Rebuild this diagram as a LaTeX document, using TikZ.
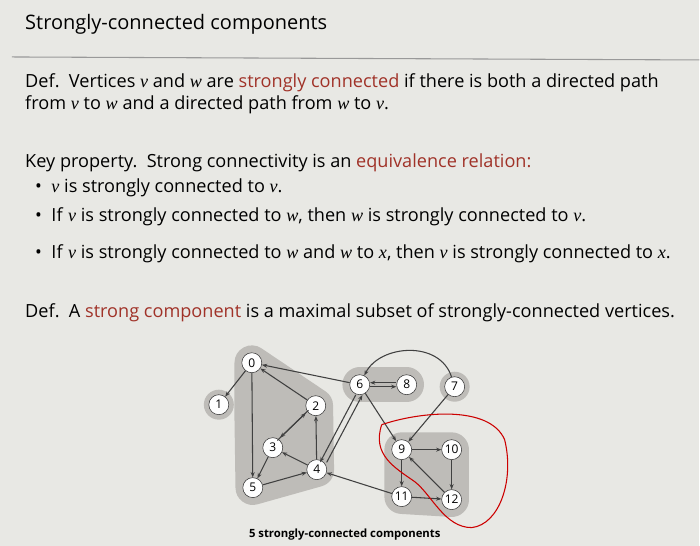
\documentclass[tikz,border=0pt]{standalone}
\usepackage{fontspec}
\setmainfont{Open Sans}
\usetikzlibrary{arrows.meta}
\definecolor{bg}{RGB}{232,232,228}
\definecolor{kw}{RGB}{160,50,40}
\definecolor{blob}{RGB}{190,188,184}
\newcommand{\mv}[1]{\textrm{\fontspec{Liberation Serif}\itshape #1}}
\begin{document}
\begin{tikzpicture}[x=0.75pt,y=-0.75pt,
  txt/.style={anchor=base west,inner sep=0,font=\fontsize{13.6}{16}\selectfont},
  v/.style={circle,draw=black!80,fill=white!95!bg,minimum size=15pt,inner sep=0,font=\fontsize{9}{10}\selectfont},
  e/.style={-{Stealth[length=4pt]},thick,black!75},
  bl/.style={fill=blob,line join=round,line cap=round,line width=26pt,draw=blob}]
\fill[bg] (0,0) rectangle (700,546);
\node[txt,font=\fontsize{15}{17}\selectfont] (t) at (25,30) {Strongly-connected components};
\draw[black!40,thick] (12,57) -- (700,60);
\node[txt] (d1) at (25,88) {Def.\ \ Vertices \mv{v} and \mv{w} are \textcolor{kw}{strongly connected} if there is both a directed path};
\node[txt] (d2) at (25,110) {from \mv{v} to \mv{w} and a directed path from \mv{w} to \mv{v}.};
\node[txt] (k) at (25,168) {Key property.\ \ Strong connectivity is an \textcolor{kw}{equivalence relation:}};
\node[txt] (b1) at (35,193) {•\ \ \mv{v} is strongly connected to \mv{v}.};
\node[txt] (b2) at (35,222) {•\ \ If \mv{v} is strongly connected to \mv{w}, then \mv{w} is strongly connected to \mv{v}.};
\node[txt] (b3) at (35,259) {•\ \ If \mv{v} is strongly connected to \mv{w} and \mv{w} to \mv{x}, then \mv{v} is strongly connected to \mv{x}.};
\node[txt] (d3) at (25,318) {Def.\ \ A \textcolor{kw}{strong component} is a maximal subset of strongly-connected vertices.};
% blobs
\draw[bl] (252,363) -- (316,406) -- (317,470) -- (253,488) -- (252,420) -- cycle;
\fill[blob] (219,405) circle (15);
\draw[bl] (360,385) -- (407,385);
\fill[blob] (455,387) circle (15);
\draw[bl] (402,450) -- (452,450) -- (452,500) -- (402,497) -- cycle;
% nodes
\node[v] (n0) at (252,363) {0};
\node[v] (n1) at (219,405) {1};
\node[v] (n2) at (316,406) {2};
\node[v] (n3) at (273,448) {3};
\node[v] (n4) at (317,470) {4};
\node[v] (n5) at (253,488) {5};
\node[v] (n6) at (360,385) {6};
\node[v] (n8) at (407,385) {8};
\node[v] (n7) at (455,387) {7};
\node[v] (n9) at (402,450) {9};
\node[v] (n10) at (452,450) {10};
\node[v] (n11) at (402,497) {11};
\node[v] (n12) at (452,500) {12};
\draw[e] (n0) -- (n1);
\draw[e] (n0) -- (n5);
\draw[e] (n2) -- (n0);
\draw[e] (n6) -- (n0);
\draw[e] ([yshift=2pt]n2.south west) -- ([yshift=2pt]n3.north east);
\draw[e] ([xshift=-2pt]n3.north east) -- ([xshift=-2pt]n2.south west);
\draw[e] (n3) -- (n5);
\draw[e] (n4) -- (n3);
\draw[e] (n4) -- (n2);
\draw[e] (n5) -- (n4);
\draw[e] ([xshift=2pt]n4.north east) -- ([xshift=2pt]n6.south);
\draw[e] ([xshift=-3pt]n6.south) -- ([xshift=-3pt]n4.north east);
\draw[e] ([yshift=-1.5pt]n6.east) -- ([yshift=-1.5pt]n8.west);
\draw[e] ([yshift=1.5pt]n8.west) -- ([yshift=1.5pt]n6.east);
\draw[e] (n7) .. controls (440,340) and (380,345) .. (n6);
\draw[e] (n7) -- (n9);
\draw[e] (n6) -- (n9);
\draw[e] (n9) -- (n10);
\draw[e] (n10) -- (n12);
\draw[e] (n12) -- (n9);
\draw[e] (n9) -- (n11);
\draw[e] (n11) -- (n12);
\draw[e] (n11) -- (n4);
\node[anchor=base,font=\bfseries\fontsize{8.5}{9}\selectfont] (cap) at (345,538) {5 strongly-connected components};
\draw[red!80!black,thick] (382,425) .. controls (420,412) and (490,405) .. (505,440)
  .. controls (515,480) and (500,525) .. (472,528) .. controls (445,528) and (432,495) .. (415,482)
  .. controls (395,468) and (372,455) .. (382,425);
\end{tikzpicture}
\end{document}
